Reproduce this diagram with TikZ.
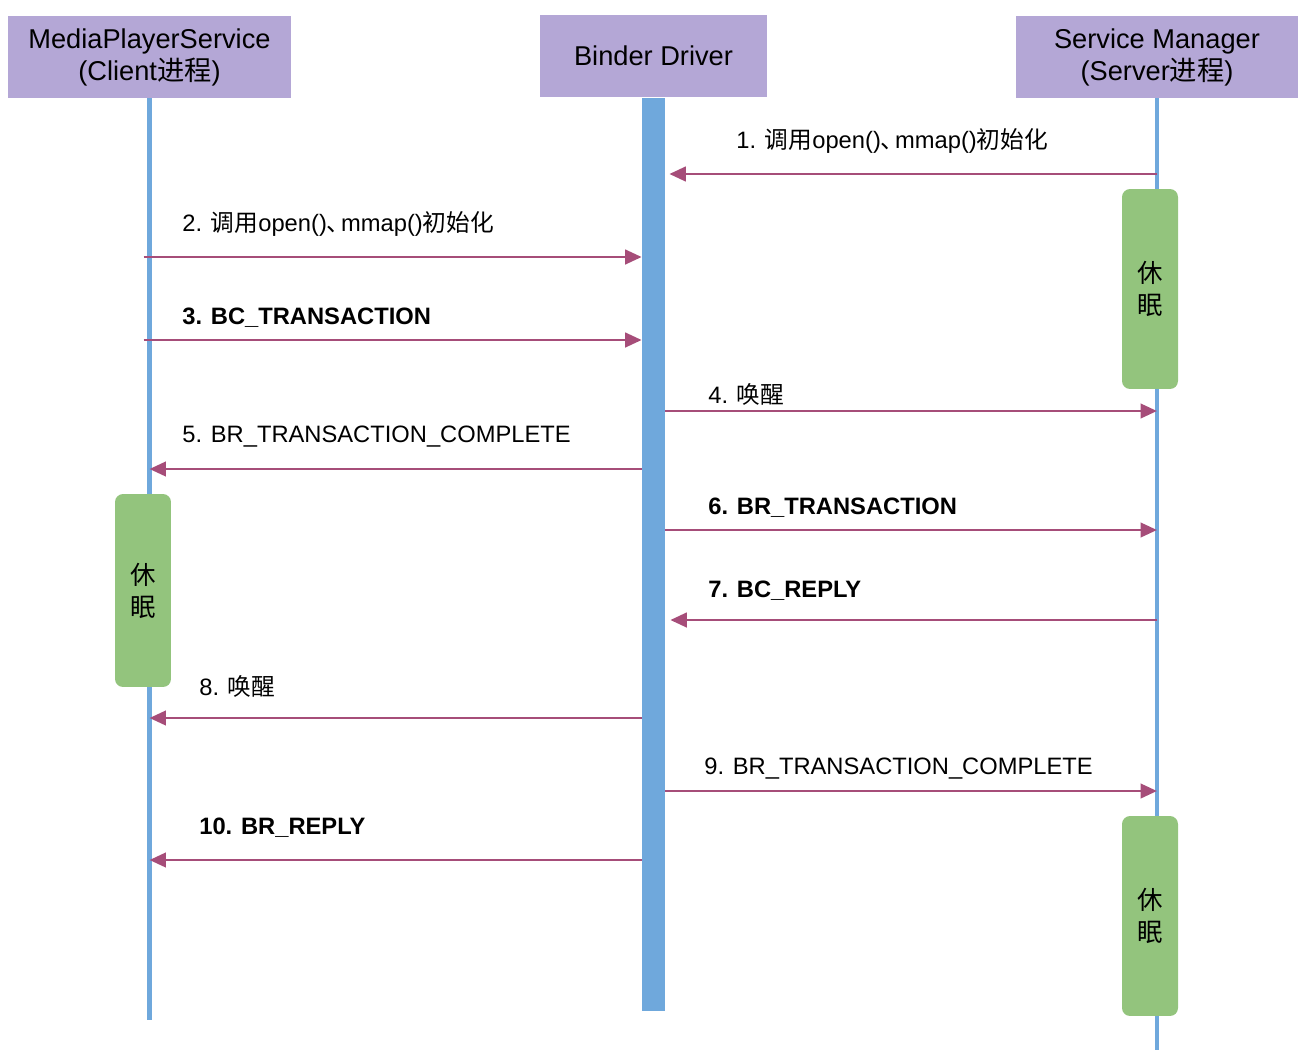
\documentclass[tikz,border=0pt]{standalone}
\usepackage{fontspec}
\setmainfont{Liberation Sans}
\newfontfamily\cjk{Noto Sans CJK SC}
\usetikzlibrary{arrows.meta,positioning}
\definecolor{headfill}{HTML}{B4A7D6}
\definecolor{lifecol}{HTML}{6FA8DC}
\definecolor{sleepfill}{HTML}{93C47D}
\definecolor{msgcol}{HTML}{A64D79}
\newcommand{\zh}[1]{{\cjk #1}}
\newcommand{\dun}{{\cjk 、}\kern-0.4em}

\begin{document}
\begin{tikzpicture}[x=0.02cm,y=-0.02cm,
  head/.style={rectangle,fill=headfill,minimum width=5.66cm,minimum height=1.64cm,align=center,inner sep=0pt,font=\fontsize{15.5}{18.2}\selectfont},
  life/.style={draw=lifecol,line width=2.3pt},
  bar/.style={rectangle,fill=lifecol,minimum width=0.46cm,minimum height=18.26cm,inner sep=0pt,anchor=north},
  sleep/.style={rectangle,rounded corners=0.16cm,fill=sleepfill,minimum width=1.12cm,minimum height=4cm,align=center,inner sep=0pt,font=\fontsize{14.5}{18.2}\selectfont\cjk},
  msg/.style={draw=msgcol,line width=1.6pt,-{Triangle[length=0.33cm,width=0.29cm]}},
  msglab/.style={anchor=west,inner sep=0pt,font=\fontsize{13.5}{16}\selectfont},
  boldlab/.style={anchor=west,inner sep=0pt,font=\fontsize{13.5}{16}\selectfont\bfseries}
]
\useasboundingbox (0,0) rectangle (1306,1052);

% participants
\node[head] (client) at (149.5,57) {MediaPlayerService\\(Client\zh{进程})};
\node[head,minimum width=4.54cm] (binder) at (653.5,56) {Binder Driver};
\node[head] (server) at (1157,57) {Service Manager\\(Server\zh{进程})};

% lifelines
\coordinate (clend) at (149.5,1020);
\coordinate (svend) at (1157,1050);
\draw[life] (client.south) -- (clend);
\draw[life] (server.south) -- (svend);
\node[bar] (bar) at (binder.south) {};

% sleeping phases
\node[sleep,minimum height=4cm] (sleep1) at (1150,289) {休\\眠};
\node[sleep,minimum height=3.86cm] (sleep2) at (143,590.5) {休\\眠};
\node[sleep,minimum height=4cm] (sleep3) at (1150,916) {休\\眠};

% message rows
\coordinate (m1) at (0,174);
\coordinate (m2) at (0,257);
\coordinate (m3) at (0,340);
\coordinate (m4) at (0,411);
\coordinate (m5) at (0,469);
\coordinate (m6) at (0,530);
\coordinate (m7) at (0,620);
\coordinate (m8) at (0,718);
\coordinate (m9) at (0,791);
\coordinate (m10) at (0,860);

\draw[msg,shorten >=0.08cm] (server |- m1) -- (bar.east |- m1);
\draw[msg,shorten <=-0.12cm] (client |- m2) -- (bar.west |- m2);
\draw[msg,shorten <=-0.12cm] (client |- m3) -- (bar.west |- m3);
\draw[msg] (bar.east |- m4) -- (server |- m4);
\draw[msg] (bar.west |- m5) -- (client |- m5);
\draw[msg] (bar.east |- m6) -- (server |- m6);
\draw[msg,shorten >=0.1cm] (server |- m7) -- (bar.east |- m7);
\draw[msg] (bar.west |- m8) -- (client |- m8);
\draw[msg] (bar.east |- m9) -- (server |- m9);
\draw[msg] (bar.west |- m10) -- (client |- m10);

% labels
\node[msglab] (l1) at (736,141) {1. \zh{调用}open()\dun mmap()\zh{初始化}};
\node[msglab] (l2) at (182,224) {2. \zh{调用}open()\dun mmap()\zh{初始化}};
\node[boldlab] (l3) at (182,318) {3. BC\_TRANSACTION};
\node[msglab] (l4) at (708,394) {4. \zh{唤醒}};
\node[msglab] (l5) at (182,437) {5. BR\_TRANSACTION\_COMPLETE};
\node[boldlab] (l6) at (708,508) {6. BR\_TRANSACTION};
\node[boldlab] (l7) at (708,591) {7. BC\_REPLY};
\node[msglab] (l8) at (199,686) {8. \zh{唤醒}};
\node[msglab] (l9) at (704,769) {9. BR\_TRANSACTION\_COMPLETE};
\node[boldlab] (l10) at (199,828) {10. BR\_REPLY};
\end{tikzpicture}
\end{document}
